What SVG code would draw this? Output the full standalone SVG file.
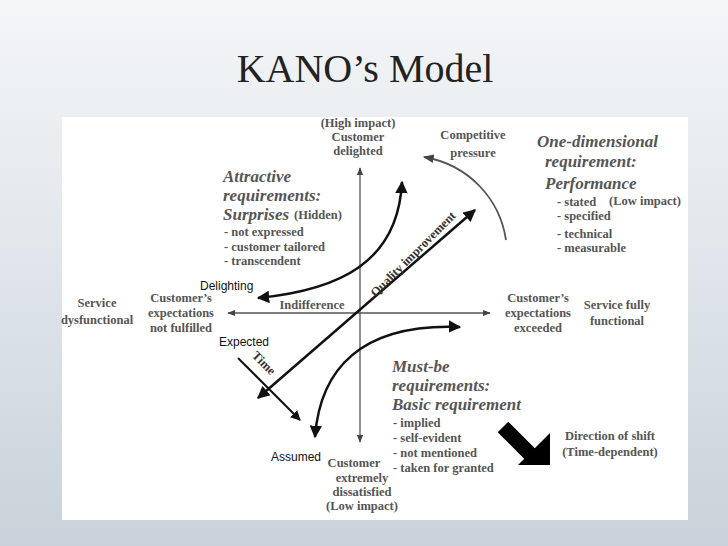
<svg xmlns="http://www.w3.org/2000/svg" width="728" height="546" viewBox="0 0 728 546">
<defs>
<linearGradient id="bg" x1="0" y1="0" x2="0" y2="1"><stop offset="0" stop-color="#f4f6f8"/><stop offset="0.5" stop-color="#dfe5ea"/><stop offset="1" stop-color="#c9d2da"/></linearGradient>
<marker id="ah" viewBox="0 0 10 10" refX="9" refY="5" markerWidth="5" markerHeight="5" orient="auto-start-reverse"><path d="M0,0 L10,5 L0,10 z" fill="#111"/></marker>
<marker id="ag" viewBox="0 0 10 10" refX="9" refY="5" markerWidth="6" markerHeight="6" orient="auto-start-reverse"><path d="M0,1 L10,5 L0,9 z" fill="#444"/></marker>
<style>
.t{font-family:"Liberation Serif",serif;font-weight:bold;font-size:12.5px;fill:#555}
.h{font-family:"Liberation Serif",serif;font-weight:bold;font-style:italic;font-size:17px;fill:#555}
.s{font-family:"Liberation Sans",sans-serif;font-size:12px;fill:#111}
.l{fill:none;stroke:#111;stroke-width:2.5}
.a{fill:none;stroke:#555;stroke-width:1.3}
</style>
</defs>
<rect width="728" height="546" fill="url(#bg)"/>
<text x="365" y="82" text-anchor="middle" font-family="Liberation Serif,serif" font-size="40" fill="#222">KANO’s Model</text>
<rect x="62" y="117" width="626" height="403" fill="#fff"/>
<g id="connectors">
<line class="a" x1="360" y1="442" x2="360" y2="168" marker-start="url(#ag)" marker-end="url(#ag)"/>
<line class="a" x1="228" y1="313" x2="490" y2="313" marker-start="url(#ag)" marker-end="url(#ag)"/>
<line class="l" x1="258" y1="398" x2="475" y2="210" marker-start="url(#ah)" marker-end="url(#ah)"/>
<path class="l" d="M258,298 C340,290 398,262 402,182" marker-start="url(#ah)" marker-end="url(#ah)"/>
<path class="l" d="M460,327 C360,323 320,370 315,437" marker-start="url(#ah)" marker-end="url(#ah)"/>
<path class="a" style="stroke-width:1.8" d="M506,240 C500,200 470,165 424,157" marker-end="url(#ag)"/>
<line class="a" style="stroke:#111;stroke-width:2" x1="238" y1="358" x2="300" y2="420" marker-end="url(#ah)"/>
<line x1="503" y1="427" x2="532" y2="456" stroke="#000" stroke-width="15"/>
<polygon points="550,433 550,465 518,465" fill="#000"/>
</g>
<g id="top"><text class="t" x="358" y="127" text-anchor="middle">(High impact)</text><text class="t" x="358" y="141" text-anchor="middle">Customer</text><text class="t" x="358" y="155" text-anchor="middle">delighted</text></g>
<g id="competitive"><text class="t" x="473" y="139" text-anchor="middle" font-size="15">Competitive</text><text class="t" x="473" y="157" text-anchor="middle" font-size="15">pressure</text></g>
<g id="onedim"><text class="h" x="537" y="147">One-dimensional</text><text class="h" x="545" y="167">requirement:</text><text class="h" x="545" y="189">Performance</text>
<text class="t" x="557" y="206">- stated</text><text class="t" x="609" y="205">(Low impact)</text><text class="t" x="557" y="220">- specified</text><text class="t" x="557" y="238">- technical</text><text class="t" x="557" y="252">- measurable</text></g>
<g id="attractive"><text class="h" x="223" y="182">Attractive</text><text class="h" x="223" y="201">requirements:</text><text class="h" x="223" y="220">Surprises</text><text class="t" x="294" y="219">(Hidden)</text>
<text class="t" x="224" y="236">- not expressed</text><text class="t" x="224" y="251">- customer tailored</text><text class="t" x="224" y="265">- transcendent</text></g>
<g id="quality"><text class="t" x="416" y="257" text-anchor="middle" style="fill:#333" transform="rotate(-45 416 257)">Quality improvement</text></g>
<g id="left"><text class="t" x="97" y="307" text-anchor="middle">Service</text><text class="t" x="97" y="324" text-anchor="middle">dysfunctional</text>
<text class="t" x="181" y="302" text-anchor="middle">Customer’s</text><text class="t" x="181" y="317" text-anchor="middle">expectations</text><text class="t" x="181" y="332" text-anchor="middle">not fulfilled</text></g>
<g id="indiff"><text class="t" x="312" y="309" text-anchor="middle">Indifference</text></g>
<g id="right"><text class="t" x="538" y="302" text-anchor="middle">Customer’s</text><text class="t" x="538" y="317" text-anchor="middle">expectations</text><text class="t" x="538" y="332" text-anchor="middle">exceeded</text>
<text class="t" x="617" y="309" text-anchor="middle">Service fully</text><text class="t" x="617" y="325" text-anchor="middle">functional</text></g>
<g id="time"><text class="t" x="261" y="366" text-anchor="middle" style="fill:#333" transform="rotate(45 261 366)">Time</text></g>
<g id="mustbe"><text class="h" x="392" y="372">Must-be</text><text class="h" x="392" y="391">requirements:</text><text class="h" x="392" y="410">Basic requirement</text>
<text class="t" x="393" y="427">- implied</text><text class="t" x="393" y="442">- self-evident</text><text class="t" x="393" y="457">- not mentioned</text><text class="t" x="393" y="472">- taken for granted</text></g>
<g id="bottom"><text class="t" x="354" y="467" text-anchor="middle">Customer</text><text class="t" x="362" y="482" text-anchor="middle">extremely</text><text class="t" x="362" y="496" text-anchor="middle">dissatisfied</text><text class="t" x="362" y="510" text-anchor="middle">(Low impact)</text></g>
<g id="shift"><text class="t" x="610" y="440" text-anchor="middle">Direction of shift</text><text class="t" x="610" y="456" text-anchor="middle">(Time-dependent)</text></g>
<g id="labels"><text class="s" x="200" y="290">Delighting</text><text class="s" x="219" y="346">Expected</text><text class="s" x="271" y="461">Assumed</text></g>
</svg>
